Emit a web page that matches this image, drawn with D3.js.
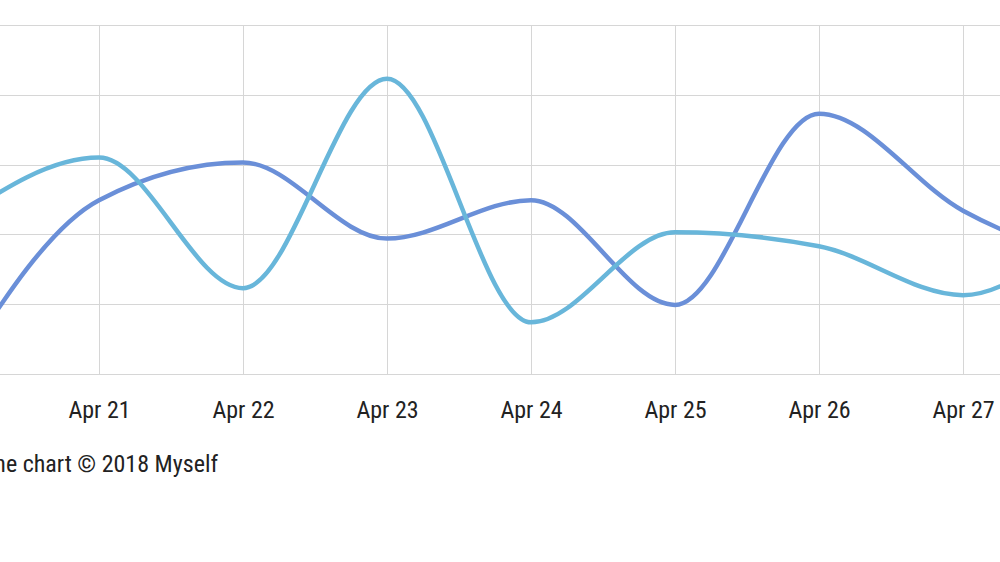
<!DOCTYPE html>
<html><head><meta charset="utf-8">
<script src="https://cdn.jsdelivr.net/npm/d3@7"></script>
<style>body{margin:0;background:#fff;overflow:hidden}svg{display:block}</style>
</head><body>
<svg id="chart" width="1000" height="562"></svg>
<script>
// Data
const days = ["2018-04-20","2018-04-21","2018-04-22","2018-04-23","2018-04-24","2018-04-25","2018-04-26","2018-04-27","2018-04-28"];
const seriesA = [22, 31, 12.3, 42.3, 7.4, 20.3, 18.3, 11.3, 25];
const seriesB = [0, 24.9, 30.3, 19.4, 24.9, 9.9, 37.3, 23.4, 15];
const yTicks = [0, 10, 20, 30, 40, 50];
const creditText = "Some chart \u00a9 2018 Myself";

const FONT = "'Liberation Sans Narrow','Roboto Condensed','Liberation Sans',sans-serif";
const parse = d3.timeParse("%Y-%m-%d");
const dates = days.map(parse);

const svg = d3.select("#chart");
const x = d3.scaleTime().domain([dates[0], dates[8]]).range([-45, 1107]);
const y = d3.scaleLinear().domain([0, 50]).range([374, 25]);

const grid = svg.append("g").attr("stroke", "#d6d6d6").attr("stroke-width", 1);
grid.selectAll("line.h").data(yTicks).enter().append("line")
  .attr("x1", 0).attr("x2", 1000)
  .attr("y1", d => Math.round(y(d)) + 0.5).attr("y2", d => Math.round(y(d)) + 0.5);
grid.selectAll("line.v").data(dates).enter().append("line")
  .attr("x1", d => Math.round(x(d)) + 0.5).attr("x2", d => Math.round(x(d)) + 0.5)
  .attr("y1", y(50)).attr("y2", y(0));

const xAxis = svg.append("g").attr("transform", `translate(0,${y(0)})`)
  .call(d3.axisBottom(x).tickValues(dates).tickFormat(d3.timeFormat("%b %-d")).tickSize(0).tickPadding(27));
xAxis.select(".domain").remove();
xAxis.selectAll("text").attr("font-family", FONT).attr("font-size", 24).attr("fill", "#222");

const line = d3.line().x((d, i) => x(dates[i])).y(d => y(d)).curve(d3.curveMonotoneX);
svg.append("path").datum(seriesB).attr("d", line).attr("fill", "none")
  .attr("stroke", "#6a8fd8").attr("stroke-width", 4.5);
svg.append("path").datum(seriesA).attr("d", line).attr("fill", "none")
  .attr("stroke", "#68b6da").attr("stroke-width", 4.5);

svg.append("text").attr("x", 218).attr("y", 472).attr("text-anchor", "end").attr("font-family", FONT)
  .attr("font-size", 24).attr("fill", "#222").text(creditText);
</script>
</body></html>
